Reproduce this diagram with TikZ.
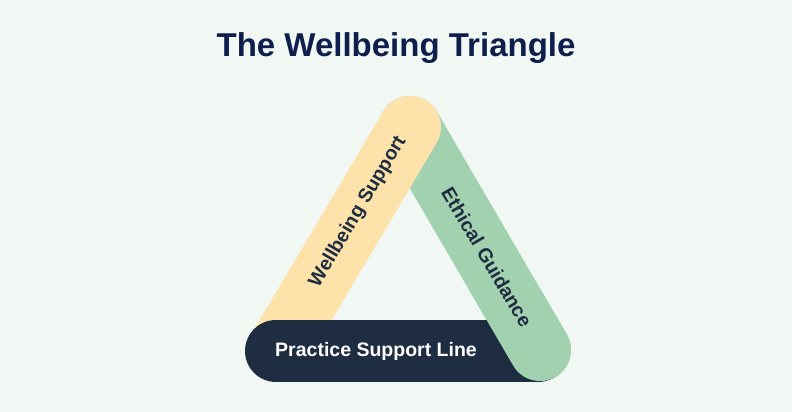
\documentclass[tikz,border=0pt]{standalone}
\usepackage{fontspec}
\setmainfont{Liberation Sans}
\definecolor{bg}{HTML}{F1F7F3}
\definecolor{navy}{HTML}{1F2D42}
\definecolor{ttl}{HTML}{0E1F4D}
\definecolor{yel}{HTML}{FDE3A9}
\definecolor{grn}{HTML}{A1D1AE}
\begin{document}
\begin{tikzpicture}[x=1pt,y=-1pt,
  bar/.style={line width=62pt,line cap=round},
  lbl/.style={font=\bfseries\fontsize{19.5}{22}\selectfont,text=navy,inner sep=1pt}]
\fill[bg] (0,0) rectangle (792,412);
\useasboundingbox (0,0) rectangle (792,412);
\node[font=\bfseries\fontsize{33}{38}\selectfont,text=ttl] (title) at (396,48) {The Wellbeing Triangle};
\coordinate (T) at (410,127);
\coordinate (BL) at (278,350);
\coordinate (BR) at (540,350);
\coordinate (NL) at (276,351);
\coordinate (NR) at (538,351);
\draw[bar,grn] (T) -- (BR);
\draw[bar,yel] (BL) -- (T);
\node[lbl,rotate=59.4] (ws) at (358,212) {Wellbeing Support};
\draw[bar,navy] (NL) -- (NR);
\begin{scope}
\clip (455,290) rectangle (620,400);
\draw[bar,grn] (T) -- (BR);
\end{scope}
\node[lbl,rotate=-59.4] (eg) at (487,257) {Ethical Guidance};
\node[lbl,text=white] (ps) at (376,351) {Practice Support Line};
\end{tikzpicture}
\end{document}
